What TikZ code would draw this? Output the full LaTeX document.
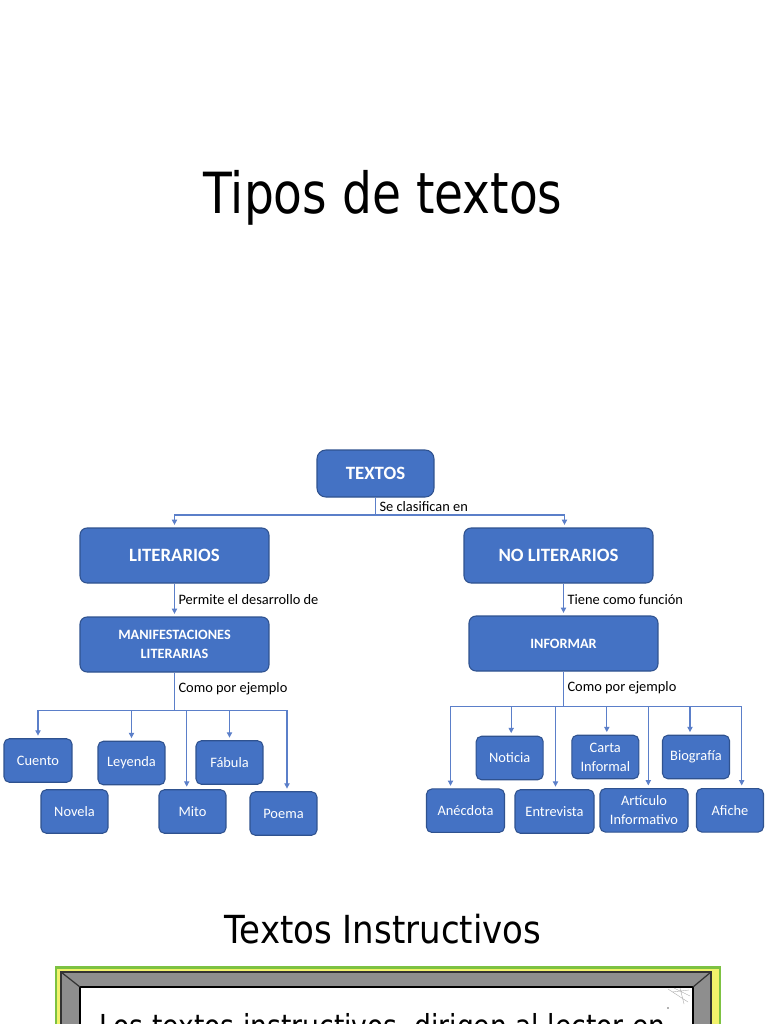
\documentclass[tikz,border=0pt]{standalone}
\usepackage{fontspec}
\usepackage{graphicx}
\usetikzlibrary{arrows.meta}
\newfontfamily\carlito{Carlito}
\newfontfamily\dejavu{DejaVu Sans}
\definecolor{boxblue}{HTML}{4472C4}
\definecolor{boxedge}{HTML}{2F528F}
\definecolor{lineblue}{HTML}{5B7FC9}
\definecolor{framegreen}{HTML}{7DC242}
\definecolor{frameyellow}{HTML}{F2F26B}
\definecolor{framegray}{HTML}{8E8E8E}

\begin{document}
\begin{tikzpicture}[x=0.02cm, y=-0.02cm,
		blk/.style={draw=boxedge, fill=boxblue, line width=0.6pt, rounded corners=4pt, text=white, align=center, inner sep=1pt},
		bigbox/.style={blk, minimum width=3.78cm, minimum height=1.1cm, font=\carlito\bfseries\fontsize{10.7}{12}\selectfont},
		midbox/.style={blk, minimum width=3.78cm, minimum height=1.1cm, font=\carlito\bfseries\fontsize{8.1}{10.8}\selectfont},
		smallbox/.style={blk, minimum width=1.34cm, minimum height=0.87cm, rounded corners=3pt, font=\carlito\fontsize{8.2}{10.8}\selectfont},
		conn/.style={draw=lineblue, line width=0.6pt},
		arr/.style={conn, -{Triangle[length=3pt, width=3pt]}, shorten >=1.5pt},
		lbl/.style={font=\carlito\fontsize{8.2}{10}\selectfont, text=black, inner sep=1pt, anchor=west, xshift=1pt}]
		%%%%% START %%%%%
		
		\useasboundingbox (0,0) rectangle (768,1024);
		\clip (0,0) rectangle (768,1024);
		\fill[white] (0,0) rectangle (768,1024);
		
		\node[anchor=base, inner sep=0pt] (titulo) at (383,213.3) {\dejavu\fontsize{32.3}{36}\selectfont\scalebox{0.83}[1]{Tipos de textos}};
		
		\node[bigbox, minimum width=2.34cm, minimum height=0.94cm, rounded corners=5pt] (textos) at (375.5,473.5) {TEXTOS};
		\node[bigbox] (lit) at (174.5,555.5) {LITERARIOS};
		\node[bigbox] (nolit) at (558.5,555.5) {NO LITERARIOS};
		\node[midbox] (manif) at (174.5,644.5) {MANIFESTACIONES\\LITERARIAS};
		\node[midbox] (inform) at (563.5,643.5) {INFORMAR};
		
		\node[smallbox, minimum width=1.36cm] (cuento) at (38,760.5) {Cuento};
		\node[smallbox] (leyenda) at (131.5,763) {Leyenda};
		\node[smallbox] (fabula) at (229.5,762.5) {Fábula};
		\node[smallbox] (novela) at (74.5,811.5) {Novela};
		\node[smallbox] (mito) at (192.5,811.5) {Mito};
		\node[smallbox] (poema) at (283.5,813.5) {Poema};
		
		\node[smallbox] (noticia) at (509.7,758) {Noticia};
		\node[smallbox] (carta) at (605.3,757) {Carta\\Informal};
		\node[smallbox] (bio) at (696,757) {Biografía};
		\node[smallbox, minimum width=1.56cm] (anec) at (465.5,810.7) {Anécdota};
		\node[smallbox, minimum width=1.58cm] (entrev) at (554.5,811.5) {Entrevista};
		\node[smallbox, minimum width=1.76cm] (artic) at (644,810.3) {Artículo\\Informativo};
		\node[smallbox] (afiche) at (730,810.3) {Afiche};
		
		% conectores
		\coordinate (busT) at (375.5,515);
		\draw[conn] (textos.south) -- (busT) node[lbl, midway] (lblT) {Se clasifican en};
		\draw[arr] (busT) -| (lit.north);
		\draw[arr] (busT) -| ([xshift=0.12cm]nolit.north);
		
		\draw[arr] (lit.south) -- (manif.north) node[lbl, midway] (lblL) {Permite el desarrollo de};
		\draw[arr] (nolit.south -| inform.north) -- (inform.north) node[lbl, midway] (lblR) {Tiene como función};
		
		\coordinate (busL) at (174.5,710.5);
		\draw[conn] (manif.south) -- (busL) node[lbl, midway, yshift=1.5pt] (lblL2) {Como por ejemplo};
		\foreach \n/\s in {cuento/0, leyenda/0, mito/-0.116, fabula/0, poema/0.07}
			\draw[arr] (busL) -| ([xshift=\s cm]\n.north);
		
		\coordinate (busR) at (563.5,706.7);
		\draw[conn] (inform.south) -- (busR) node[lbl, midway, yshift=1pt] (lblR2) {Como por ejemplo};
		\foreach \n/\s in {anec/-0.3, noticia/0.03, entrev/0.02, carta/0.03, artic/0.086, bio/-0.12, afiche/0.234}
			\draw[arr] (busR) -| ([xshift=\s cm]\n.north);
		
		\node[anchor=base, inner sep=0pt] (subtitulo) at (383,943.3) {\dejavu\fontsize{22}{26}\selectfont\scalebox{0.88}[1]{Textos Instructivos}};
		
		% marco
		\fill[frameyellow] (56,967.5) rectangle (720,1060);
		\draw[framegreen, line width=1.2pt] (56,967.5) rectangle (720,1060);
		\fill[framegray, even odd rule] (61,972) rectangle (711,1080) (80,987) rectangle (693,1080);
		\draw[black!80, line width=0.7pt] (61,972) rectangle (711,1080);
		\draw[black, line width=1.1pt, fill=white] (80,987) rectangle (693,1080);
		\draw[black!80, line width=0.7pt] (61,972) -- (80,987) (711,972) -- (693,987);
		\draw[black!35, line width=0.2pt] (668,989) -- (688,1002) (674,988) -- (690,996) (680,988) -- (684,1004) (672,992) -- (689,990);
		\fill[black!60] (668,1008) circle (0.8);
		
		\node[anchor=base west, inner sep=0pt] (intro) at (99,1037) {\dejavu\fontsize{18}{20}\selectfont\scalebox{0.84}[1]{Los textos instructivos, dirigen al lector en}};
		
		%%%%% END %%%%%
\end{tikzpicture}
\end{document}
